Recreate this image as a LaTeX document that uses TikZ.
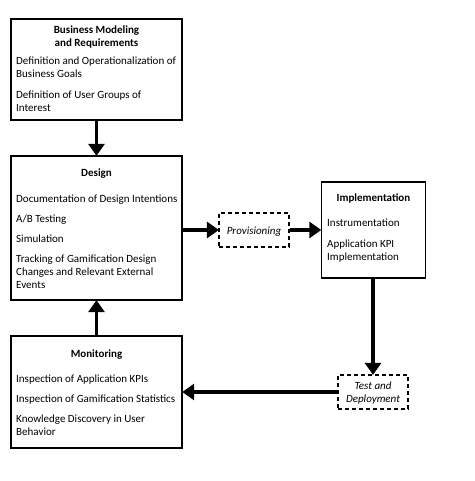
\documentclass[tikz,border=0pt]{standalone}
\usepackage{fontspec}
\setmainfont{Carlito}
\usetikzlibrary{arrows.meta}
\tikzset{
  box/.style={draw, line width=1.4pt, rectangle, inner sep=0pt},
  dbox/.style={draw, line width=1.2pt, dash pattern=on 4pt off 3pt, rectangle, inner sep=0pt},
  txt/.style={inner sep=0pt, anchor=base west, font=\fontsize{11}{13}\selectfont},
  ttl/.style={inner sep=0pt, anchor=base, font=\fontsize{11}{13}\selectfont\bfseries},
  itl/.style={inner sep=0pt, anchor=base, font=\fontsize{11}{13}\selectfont\itshape},
  arr/.style={line width=3.8pt, -{Triangle[width=16pt,length=12pt]}, shorten >=-0.5pt}
}
\begin{document}
\begin{tikzpicture}[x=1pt,y=-1pt]
\useasboundingbox (0,0) rectangle (474,481);
% boxes
\node[box, minimum width=171pt, minimum height=101pt] (bm) at (96.5,69.5) {};
\node[box, minimum width=171pt, minimum height=144pt] (de) at (96.5,228) {};
\node[box, minimum width=104pt, minimum height=96pt] (im) at (373.5,230) {};
\node[dbox, minimum width=70pt, minimum height=34pt] (pr) at (254,230) {};
\node[dbox, minimum width=70pt, minimum height=34pt] (td) at (373,392) {};
\node[box, minimum width=171pt, minimum height=112pt] (mo) at (96.5,392) {};
% texts: business modeling
\node[ttl] (bm1) at (96.5,33.5) {Business Modeling};
\node[ttl] (bm2) at (96.5,46.5) {and Requirements};
\node[txt] (bm3) at (16,64.5) {Definition and Operationalization of};
\node[txt] (bm4) at (16,77.5) {Business Goals};
\node[txt] (bm5) at (16,98.5) {Definition of User Groups of};
\node[txt] (bm6) at (16,111.5) {Interest};
% design
\node[ttl] (de1) at (96.5,176.5) {Design};
\node[txt] (de2) at (16,202.5) {Documentation of Design Intentions};
\node[txt] (de3) at (16,222.5) {A/B Testing};
\node[txt] (de4) at (16,242.5) {Simulation};
\node[txt] (de5) at (16,262.5) {Tracking of Gamification Design};
\node[txt] (de6) at (16,275.5) {Changes and Relevant External};
\node[txt] (de7) at (16,288.5) {Events};
% implementation
\node[ttl] (im1) at (373.5,201.5) {Implementation};
\node[txt] (im2) at (327,226.5) {Instrumentation};
\node[txt] (im3) at (327,247.5) {Application KPI};
\node[txt] (im4) at (327,260.5) {Implementation};
% provisioning
\node[itl] (pr1) at (254,234) {Provisioning};
% test
\node[itl] (td1) at (373,389.5) {Test and};
\node[itl] (td2) at (373,402.5) {Deployment};
% monitoring
\node[ttl] (mo1) at (96.5,357.5) {Monitoring};
\node[txt] (mo2) at (16,382.5) {Inspection of Application KPIs};
\node[txt] (mo3) at (16,402.5) {Inspection of Gamification Statistics};
\node[txt] (mo4) at (16,422.5) {Knowledge Discovery in User};
\node[txt] (mo5) at (16,435.5) {Behavior};
% connectors
\draw[arr] (bm.south) -- (de.north);
\draw[arr] (pr.west -| de.east) -- (pr.west);
\draw[arr] (pr.east) -- (im.west |- pr.east);
\draw[arr] (im.south -| td.north) -- (td.north);
\draw[arr] (td.west) -- (mo.east |- td.west);
\draw[arr] (mo.north) -- (de.south);
\end{tikzpicture}
\end{document}
